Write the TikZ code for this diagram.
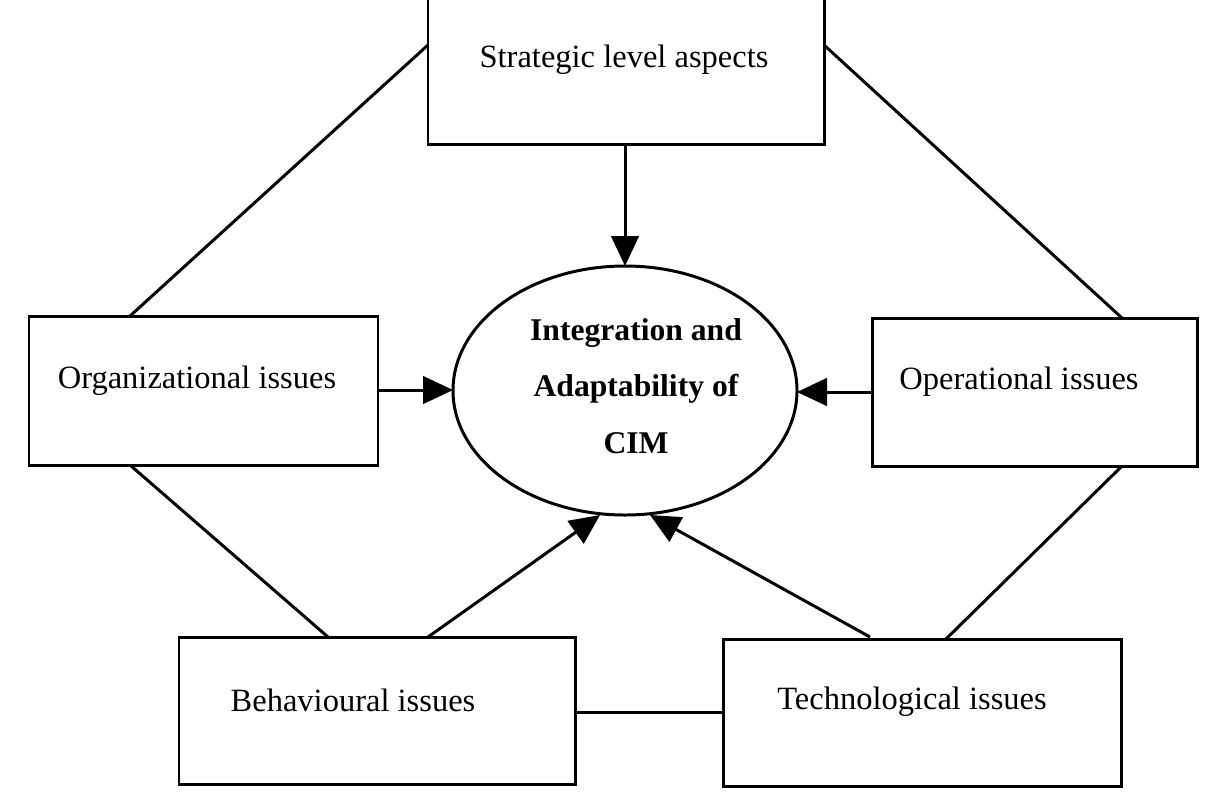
\documentclass[tikz,border=0pt]{standalone}
\usepackage{fontspec}
\setmainfont{Liberation Serif}
\usetikzlibrary{arrows.meta,shapes.geometric}
\begin{document}
\begin{tikzpicture}[x=0.02cm,y=-0.02cm,line width=1.7pt,
  box/.style={draw,rectangle,inner sep=0pt},
  lbl/.style={font=\fontsize{18.5}{22}\selectfont},
  arr/.style={-{Triangle[length=0.6cm,width=0.55cm]}}]
\useasboundingbox (0,0) rectangle (1213,796);
\node[box,minimum width=396*0.02cm,minimum height=146*0.02cm] (s) at (626,71) {};
\node[lbl] (st) at (624,60) {Strategic level aspects};
\node[box,minimum width=349*0.02cm,minimum height=149*0.02cm] (o) at (203.5,390.5) {};
\node[lbl] (ot) at (197,381) {Organizational issues};
\node[box,minimum width=325*0.02cm,minimum height=148*0.02cm] (p) at (1034.5,392) {};
\node[lbl] (pt) at (1019,382) {Operational issues};
\node[box,minimum width=396*0.02cm,minimum height=147*0.02cm] (b) at (377,710.5) {};
\node[lbl] (bt) at (353,700) {Behavioural issues};
\node[box,minimum width=398*0.02cm,minimum height=147*0.02cm] (t) at (922,712.5) {};
\node[lbl] (tt) at (912,702) {Technological issues};
\node[draw,ellipse,minimum width=344*0.02cm,minimum height=249*0.02cm,inner sep=0pt] (e) at (625,390.5) {};
\node[font=\bfseries\fontsize{18}{32}\selectfont,align=center] (et) at (636,386) {Integration and\\Adaptability of\\CIM};
\coordinate (s1) at (428,45); \coordinate (o1) at (130,316);
\coordinate (s2) at (824,45); \coordinate (p1) at (1122,318);
\coordinate (o2) at (130,465); \coordinate (b1) at (328,637);
\coordinate (p2) at (1122,466); \coordinate (t1) at (946,639);
\coordinate (b2) at (575,712); \coordinate (t2) at (723,712);
\draw (s1)--(o1); \draw (s2)--(p1); \draw (o2)--(b1); \draw (p2)--(t1); \draw (b2)--(t2);
\coordinate (sb) at (625,144); \coordinate (et1) at (625,266);
\coordinate (or) at (378,390); \coordinate (el) at (453,390);
\coordinate (pl) at (872,392); \coordinate (er) at (797,392);
\coordinate (bu) at (428,637); \coordinate (e1) at (600,515);
\coordinate (tu) at (870,637); \coordinate (e2) at (650,515);
\draw[arr] (sb)--(et1); \draw[arr] (or)--(el); \draw[arr] (pl)--(er);
\draw[arr] (bu)--(e1); \draw[arr] (tu)--(e2);
\end{tikzpicture}
\end{document}
